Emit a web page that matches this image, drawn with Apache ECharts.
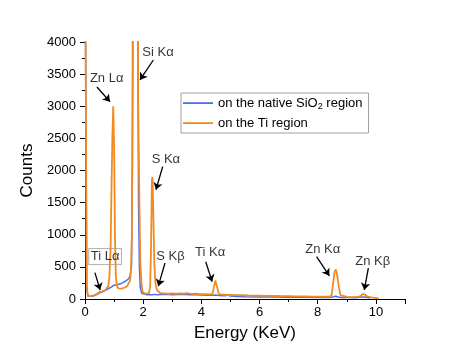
<!DOCTYPE html>
<html><head><meta charset="utf-8">
<script src="https://cdn.jsdelivr.net/npm/echarts@6/dist/echarts.min.js"></script>
<style>html,body{margin:0;padding:0;background:#fff}#c{width:474px;height:362px}</style>
</head><body><div id="c"></div>
<script>
// Series: on the native SiO2 region (blue)
var blueX = [0,0.03,0.06,0.1,0.15,0.2,0.25,0.3,0.35,0.4,0.45,0.5,0.55,0.6,0.65,0.7,0.75,0.8,0.85,0.9,0.95,1.0,1.05,1.1,1.15,1.2,1.25,1.3,1.35,1.4,1.45,1.5,1.55,1.6,1.63,1.66,1.7,1.74,1.78,1.81,1.84,1.87,1.9,1.95,2.0,2.1,2.2,2.3,2.4,2.5,2.6,2.8,3.0,3.2,3.4,3.6,3.8,4.0,4.2,4.4,4.5,4.6,4.8,4.9,5.0,5.2,5.5,6.0,6.5,7.0,7.5,8.0,8.4,8.55,8.62,8.7,8.8,9.0,9.3,9.5,9.6,9.7,9.8];
var blueY = [6000,3000,200,45,38,42,40,48,55,68,80,95,105,112,125,135,148,160,172,185,200,215,210,222,218,232,240,255,268,280,295,315,360,520,2000,6000,12000,16000,12000,5000,1500,500,180,90,72,68,70,66,72,68,70,72,68,70,74,66,65,62,60,58,62,55,52,60,45,40,35,32,30,28,27,25,24,35,42,32,22,22,20,30,32,22,15];
// Series: on the Ti region (orange)
var orangeX = [0,0.03,0.06,0.1,0.15,0.2,0.25,0.3,0.35,0.4,0.45,0.5,0.55,0.6,0.65,0.7,0.75,0.8,0.84,0.88,0.91,0.94,0.97,1.0,1.03,1.06,1.1,1.15,1.2,1.25,1.3,1.35,1.4,1.45,1.5,1.55,1.58,1.61,1.63,1.65,1.74,1.8,1.83,1.87,1.9,1.94,1.98,2.02,2.08,2.14,2.2,2.24,2.27,2.3,2.32,2.35,2.38,2.42,2.46,2.5,2.55,2.6,2.7,2.8,2.9,3.0,3.1,3.2,3.3,3.4,3.5,3.6,3.7,3.8,3.9,4.0,4.1,4.2,4.3,4.38,4.43,4.48,4.52,4.56,4.6,4.7,4.8,4.9,5.0,5.2,5.4,5.6,5.8,6.0,6.2,6.4,6.6,6.8,7.0,7.2,7.4,7.6,7.8,8.0,8.2,8.4,8.48,8.53,8.58,8.62,8.66,8.72,8.78,8.84,9.0,9.2,9.4,9.48,9.55,9.62,9.7,9.8,9.9,10.0,10.1];
var orangeY = [6000,3000,150,50,42,45,48,55,65,78,95,110,108,120,130,140,160,200,350,800,1700,2500,3000,2400,1000,350,200,165,155,160,165,175,185,200,225,290,450,1000,3000,6000,20000,6000,3000,1500,600,250,110,85,80,82,90,200,800,1850,1900,1300,600,250,160,125,100,90,88,85,82,86,82,84,88,85,92,84,80,82,78,76,74,75,72,80,180,290,270,150,80,68,66,62,64,60,58,55,54,52,50,48,47,45,44,42,41,40,38,37,36,35,60,250,420,460,400,200,60,35,32,30,32,50,78,70,40,28,20,15,10];
// Peak annotations (text anchor and arrow, in data units)
var annoLabels = ['Zn Lα','Si Kα','S Kα','Ti Lα','S Kβ','Ti Kα','Zn Kα','Zn Kβ'];
var annoX = [0.745,2.51,2.78,0.69,2.94,4.30,8.17,9.89];
var annoY = [3440,3845,2180,660,670,720,773,590];
var arrowFromX = [0.41,2.35,2.67,0.34,2.75,4.15,7.96,9.74];
var arrowFromY = [3300,3720,2060,410,560,580,660,480];
var arrowToX = [0.86,1.89,2.44,0.52,2.52,4.37,8.40,9.60];
var arrowToY = [3070,3410,1700,140,200,270,360,140];
var boxedLabels = ['Ti Lα'];
var seriesNames = ['on the native SiO2 region','on the Ti region'];

function zip(xs, ys){ return xs.map(function(x,i){ return [x, ys[i]]; }); }

var FONT = 'Liberation Sans, Arial, sans-serif';
var chart = echarts.init(document.getElementById('c'), null, {renderer:'canvas'});
var labelData = annoLabels.map(function(t,i){
  var d = {value:[annoX[i], annoY[i]], name:t};
  if (boxedLabels.indexOf(t) >= 0) {
    d.label = {borderColor:'#9a9a9a', borderWidth:1, padding:[2,2,1,2]};
  }
  return d;
});
var arrowData = annoLabels.map(function(t,i){
  return [{coord:[arrowFromX[i], arrowFromY[i]]},{coord:[arrowToX[i], arrowToY[i]]}];
});

chart.setOption({
  animation:false,
  backgroundColor:'#fff',
  grid:{left:85, right:69, top:42, bottom:63, containLabel:false},
  legend:{
    data:seriesNames, orient:'vertical', left:181, top:93,
    icon:'path://M0,0L0,0M0,6.2h30v1.8h-30zM30,14L30,14',
    itemWidth:30, itemHeight:14, itemGap:5, padding:[3,6,3,2],
    borderColor:'#a0a0a0', borderWidth:1, backgroundColor:'#fff',
    formatter:function(n){
      if (n === seriesNames[0]) return '{a|on the native SiO}{s|2}{a| region}';
      return '{a|' + n + '}';
    },
    textStyle:{color:'#000', fontFamily:FONT, fontSize:13,
      rich:{a:{fontSize:13, fontFamily:FONT, color:'#000'}, s:{fontSize:9, fontFamily:FONT, color:'#000', padding:[7,0,0,0]}}}
  },
  xAxis:{
    type:'value', min:0, max:11, interval:2,
    name:'Energy (KeV)', nameLocation:'middle', nameGap:26,
    nameTextStyle:{fontFamily:FONT, fontSize:17, color:'#000'},
    axisLine:{show:true, onZero:false, lineStyle:{color:'#000', width:1}},
    axisTick:{show:true, inside:false, length:5, lineStyle:{color:'#000'}},
    minorTick:{show:true, splitNumber:2, length:3, lineStyle:{color:'#000'}},
    axisLabel:{color:'#000', fontFamily:FONT, fontSize:13, margin:7, showMaxLabel:false},
    splitLine:{show:false}
  },
  yAxis:{
    type:'value', min:0, max:4000, interval:500,
    name:'Counts', nameLocation:'middle', nameGap:38, nameRotate:90,
    nameTextStyle:{fontFamily:FONT, fontSize:17, color:'#000'},
    axisLine:{show:true, onZero:false, lineStyle:{color:'#000', width:1}},
    axisTick:{show:true, inside:false, length:5, lineStyle:{color:'#000'}},
    minorTick:{show:true, splitNumber:2, length:3, lineStyle:{color:'#000'}},
    axisLabel:{color:'#000', fontFamily:FONT, fontSize:13, margin:9, formatter:function(v){return String(v);}},
    splitLine:{show:false}
  },
  series:[
    {name:seriesNames[0], type:'line', symbol:'none', data:zip(blueX, blueY),
     lineStyle:{color:'#4d6ef2', width:1.5}, itemStyle:{color:'#4d6ef2'}, clip:true, z:2},
    {name:seriesNames[1], type:'line', symbol:'none', data:zip(orangeX, orangeY),
     lineStyle:{color:'#f38a1f', width:1.8}, itemStyle:{color:'#f38a1f'}, clip:true, z:3},
    {name:'annotations', type:'scatter', symbolSize:1, itemStyle:{color:'rgba(0,0,0,0)'},
     data:labelData, z:5, silent:true,
     label:{show:true, position:'inside', formatter:function(p){return p.name;},
       color:'#000', fontFamily:FONT, fontSize:13},
     markLine:{silent:true, symbol:['none','arrow'], symbolSize:7, precision:4,
       lineStyle:{color:'#000', width:1.3, type:'solid'}, label:{show:false},
       emphasis:{disabled:true}, data:arrowData}
    }
  ]
});
</script></body></html>
